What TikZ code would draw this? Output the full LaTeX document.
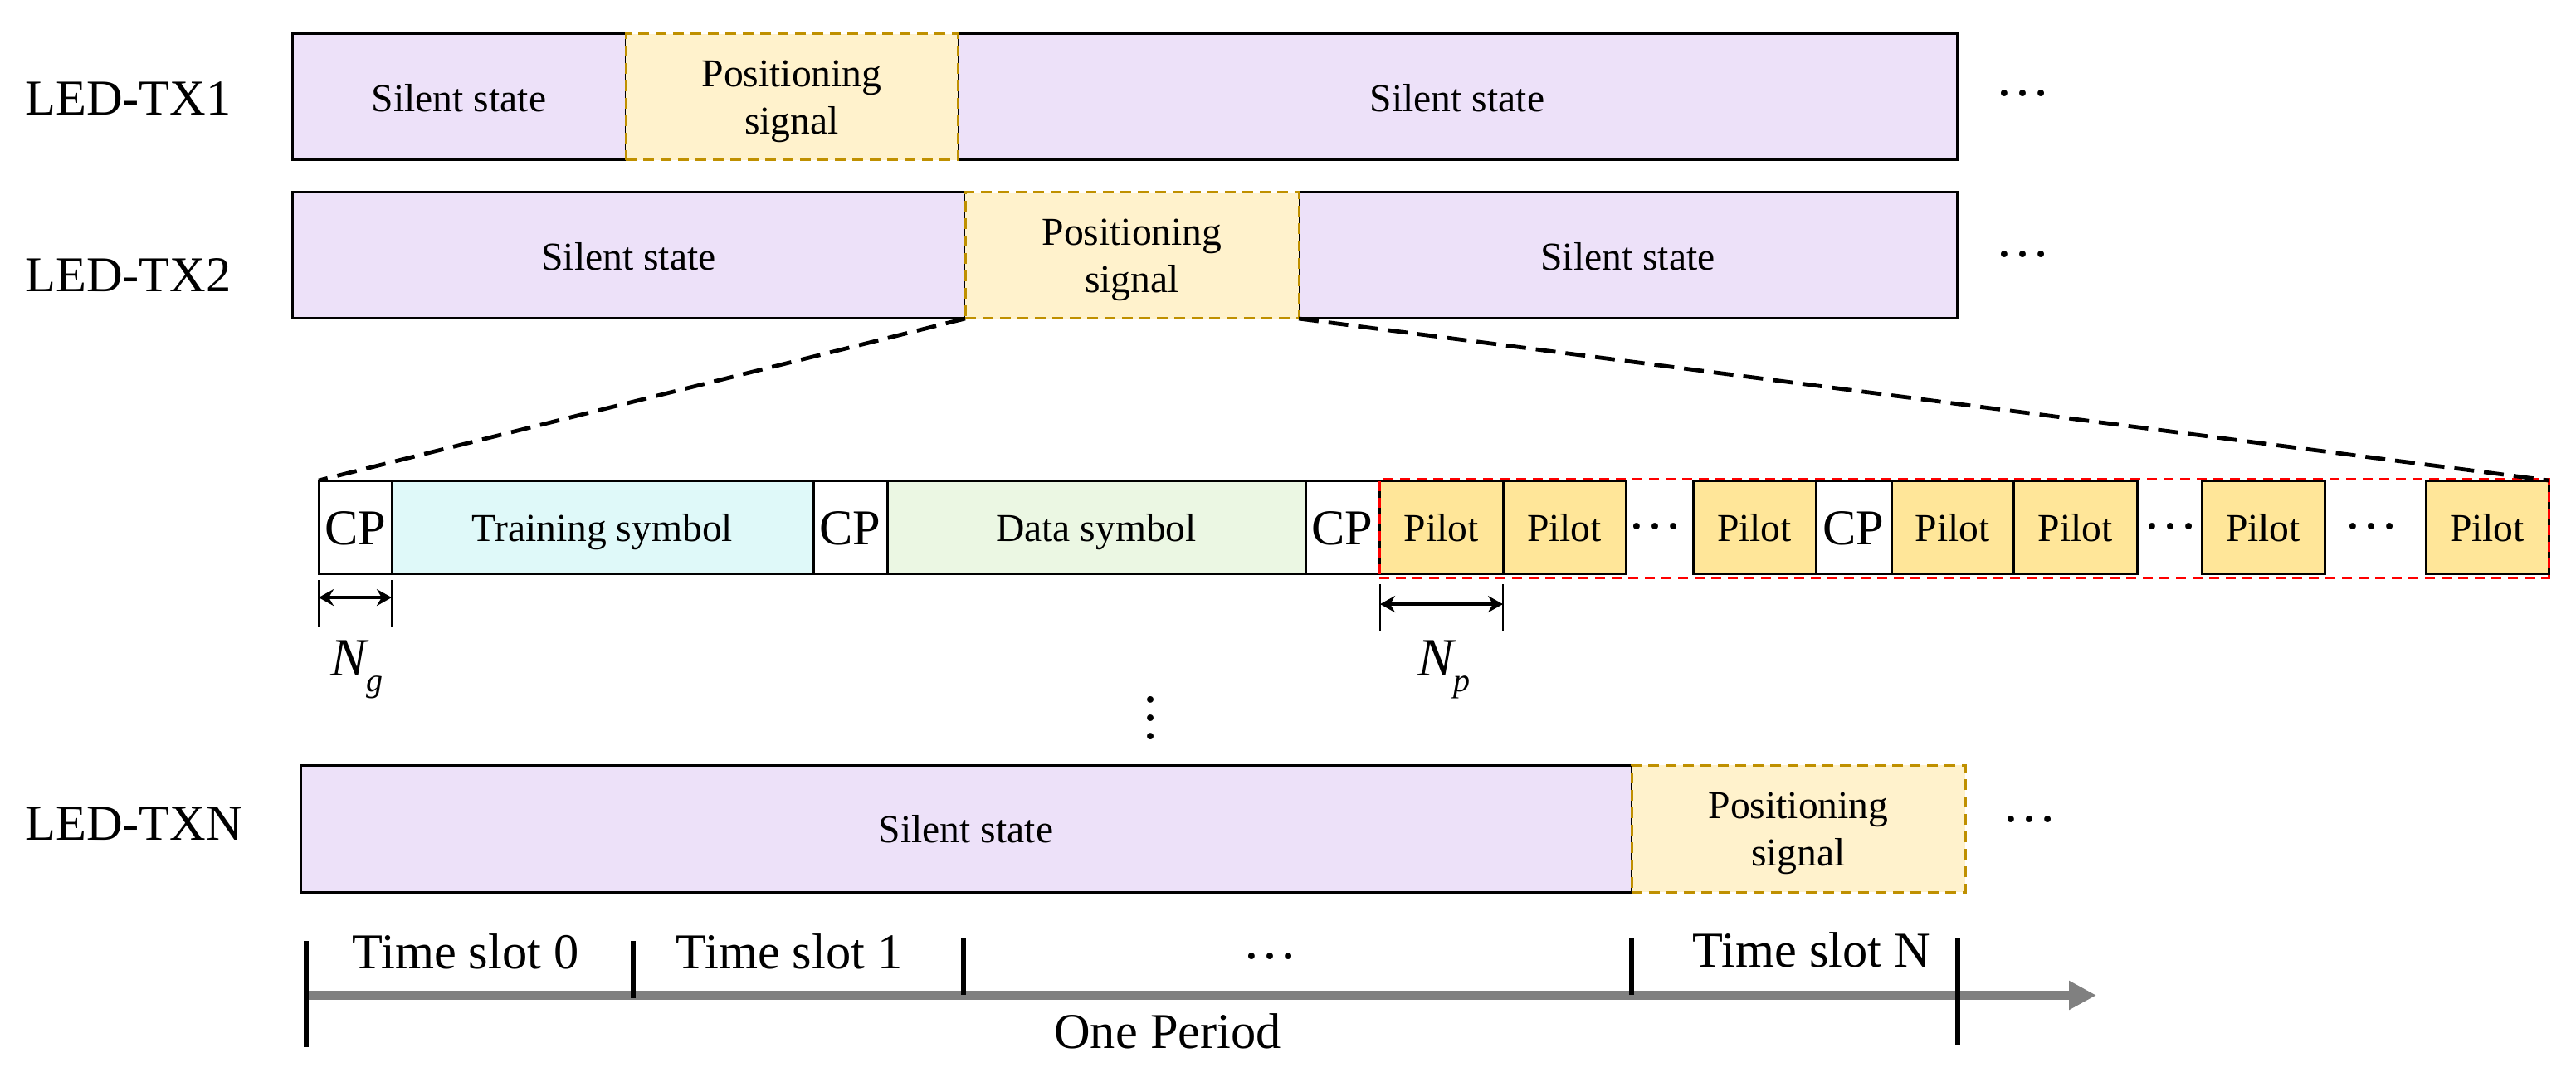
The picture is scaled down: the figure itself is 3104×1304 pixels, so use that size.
\documentclass[tikz,border=0pt]{standalone}
\usepackage{fontspec}
\setmainfont{Liberation Serif}
\usetikzlibrary{arrows.meta,calc}
\definecolor{silentc}{HTML}{EDE1F9}
\definecolor{posc}{HTML}{FFF2CC}
\definecolor{posd}{HTML}{BF9000}
\definecolor{trainc}{HTML}{DFF9F9}
\definecolor{datac}{HTML}{EBF7E3}
\definecolor{pilotc}{HTML}{FFE699}
\definecolor{axisc}{HTML}{808080}
\newcommand{\fs}{\fontsize{23.8}{28.5}\selectfont}
\newcommand{\fl}{\fontsize{30.2}{36}\selectfont}
\newcommand{\fd}{\fontsize{33}{36}\selectfont}
\tikzset{
  x=0.5pt,y=-0.5pt,
  seg/.style={draw=black,line width=1.5pt,inner sep=0pt,outer sep=0pt,anchor=north west,align=center,font=\fs},
  silent/.style={seg,fill=silentc},
  possig/.style={seg,fill=posc,draw=posd,dash pattern=on 6.5pt off 4pt},
  cpbox/.style={seg,fill=white,font=\fl},
  train/.style={seg,fill=trainc},
  datab/.style={seg,fill=datac},
  pilot/.style={seg,fill=pilotc},
  redbox/.style={seg,draw=red,dash pattern=on 6pt off 4pt},
  rowlab/.style={font=\fl,anchor=base west,inner sep=0pt},
  slotlab/.style={font=\fl,anchor=base,inner sep=0pt},
  dotlab/.style={font=\fd,inner sep=0pt},
  zoomline/.style={line width=2.4pt,dash pattern=on 12pt off 6pt},
  tick/.style={line width=2.8pt},
  extent/.style={line width=0.9pt},
  dim/.style={line width=2pt,{Stealth[length=9pt,width=10pt]}-{Stealth[length=9pt,width=10pt]}},
  timeaxis/.style={line width=5.5pt,draw=axisc,-{Triangle[length=16.5pt,width=16.5pt,fill=axisc]}},
}
% \seg{name}{style}{x1}{x2}{y1}{y2}{text}
\newcommand{\seg}[7]{%
  \pgfmathsetmacro{\segw}{(#4-#3)*0.5}\pgfmathsetmacro{\segh}{(#6-#5)*0.5}%
  \node[#2,minimum width=\segw pt,minimum height=\segh pt] (#1) at (#3,#5) {\raisebox{-0.36em}[0pt][0pt]{#7}};}
\newcommand{\twolines}{\raisebox{14.6pt}[0pt][0pt]{\begin{tabular}[t]{@{}c@{}}Positioning\\signal\end{tabular}}}
\newcommand{\symN}[1]{\fontsize{32.5}{36}\selectfont\itshape N\raisebox{-0.3em}{\fontsize{20}{24}\selectfont #1}}
\begin{document}
\begin{tikzpicture}
\useasboundingbox (0,0) rectangle (3104,1304);
% row labels
\node[rowlab] (l1) at (30,139) {LED-TX1};
\node[rowlab] (l2) at (30,352) {LED-TX2};
\node[rowlab] (ln) at (30,1012) {LED-TXN};
% TX1
\seg{a1}{silent}{352}{754}{41}{193}{Silent state}
\seg{a3}{silent}{1154}{2358}{41}{193}{Silent state}
\seg{a2}{possig}{754}{1154}{41}{193}{\twolines}
\node[dotlab] (d1) at (2437,113) {…};
% TX2
\seg{b1}{silent}{352}{1163}{232}{384}{Silent state}
\seg{b3}{silent}{1565}{2358}{232}{384}{Silent state}
\seg{b2}{possig}{1163}{1565}{232}{384}{\twolines}
\node[dotlab] (d2) at (2437,307) {…};
% expanded frame
\seg{c1}{cpbox}{384}{472}{579}{691}{CP}
\seg{c2}{train}{472}{980}{579}{691}{Training symbol}
\seg{c3}{cpbox}{980}{1069}{579}{691}{CP}
\seg{c4}{datab}{1069}{1573}{579}{691}{Data symbol}
\seg{c5}{cpbox}{1573}{1662}{579}{691}{CP}
\seg{p1}{pilot}{1662}{1811}{579}{691}{Pilot}
\seg{p2}{pilot}{1811}{1959}{579}{691}{Pilot}
\node[dotlab] (d3) at (1994,635) {…};
\seg{p3}{pilot}{2040}{2188}{579}{691}{Pilot}
\seg{c6}{cpbox}{2188}{2279}{579}{691}{CP}
\seg{p4}{pilot}{2279}{2426}{579}{691}{Pilot}
\seg{p5}{pilot}{2426}{2575}{579}{691}{Pilot}
\node[dotlab] (d4) at (2615,635) {…};
\seg{p6}{pilot}{2653}{2801}{579}{691}{Pilot}
\node[dotlab] (d5) at (2857,635) {…};
\seg{p7}{pilot}{2923}{3071}{579}{691}{Pilot}
\seg{rb}{redbox}{1662}{3071}{577}{696}{}
% zoom lines
\draw[zoomline] (b2.south west) -- (c1.north west);
\draw[zoomline] (b2.south east) -- (p7.north east);
% dimensions
\coordinate (g1t) at (384,699); \coordinate (g1b) at (384,756);
\coordinate (g2t) at (472,699); \coordinate (g2b) at (472,756);
\draw[extent] (g1t) -- (g1b);
\draw[extent] (g2t) -- (g2b);
\draw[dim] ($(g1t)!0.37!(g1b)$) -- ($(g2t)!0.37!(g2b)$);
\coordinate (n1t) at (1663,704); \coordinate (n1b) at (1663,760);
\coordinate (n2t) at (1811,704); \coordinate (n2b) at (1811,760);
\draw[extent] (n1t) -- (n1b);
\draw[extent] (n2t) -- (n2b);
\draw[dim] ($(n1t)!0.43!(n1b)$) -- ($(n2t)!0.43!(n2b)$);
\node[inner sep=0pt,anchor=base] (ng) at (430,814) {\symN{g}};
\node[inner sep=0pt,anchor=base] (np) at (1740,814) {\symN{p}};
\node[dotlab,rotate=90] (vd) at (1387,865) {…};
% TXN
\seg{e1}{silent}{362}{1966}{922}{1075}{Silent state}
\seg{e2}{possig}{1966}{2368}{922}{1075}{\twolines}
\node[dotlab] (d6) at (2445,988) {…};
% time axis
\coordinate (axs) at (369,1199.5);
\coordinate (axe) at (2526,1199.5);
\draw[timeaxis] (axs) -- (axe);
\coordinate (t0a) at (369,1134); \coordinate (t0b) at (369,1262);
\coordinate (t1a) at (763,1134); \coordinate (t1b) at (763,1203);
\coordinate (t2a) at (1161,1131); \coordinate (t2b) at (1161,1199);
\coordinate (t3a) at (1966,1131); \coordinate (t3b) at (1966,1199);
\coordinate (t4a) at (2359,1131); \coordinate (t4b) at (2359,1260);
\draw[tick] (t0a) -- (t0b);
\draw[tick] (t1a) -- (t1b);
\draw[tick] (t2a) -- (t2b);
\draw[tick] (t3a) -- (t3b);
\draw[tick] (t4a) -- (t4b);
\node[slotlab] (s0) at (561,1167) {Time slot 0};
\node[slotlab] (s1) at (951,1167) {Time slot 1};
\node[dotlab] (s2) at (1530,1153) {…};
\node[slotlab] (s3) at (2183,1165) {Time slot N};
\node[slotlab] (op) at (1407,1263) {One Period};
\end{tikzpicture}
\end{document}
